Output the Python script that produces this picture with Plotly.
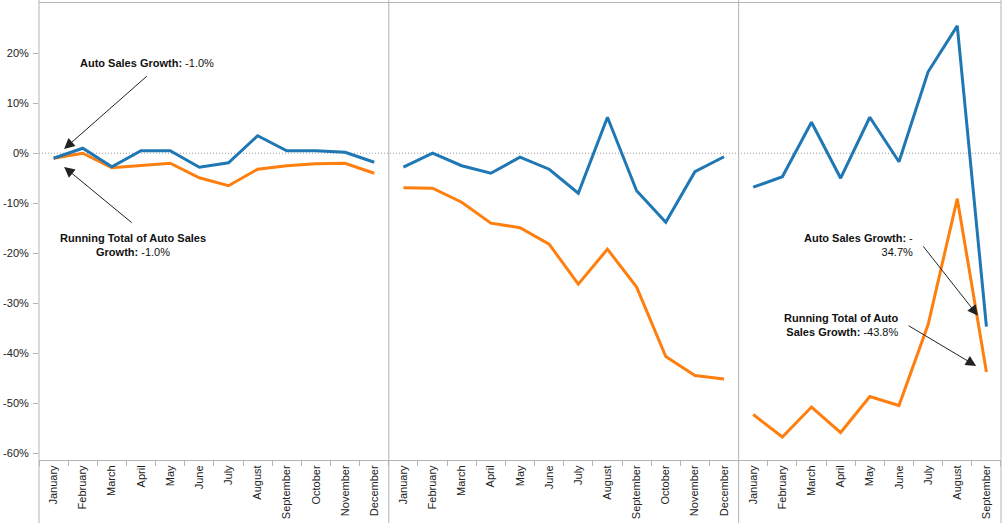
import plotly.graph_objects as go
from plotly.subplots import make_subplots

# ---- data (percent) ----
months = ["January", "February", "March", "April", "May", "June", "July",
          "August", "September", "October", "November", "December"]
p1_months = months
p2_months = months
p3_months = months[:9]

p1_growth = [-1.0, 1.0, -2.7, 0.5, 0.5, -2.8, -1.9, 3.5, 0.5, 0.5, 0.2, -1.8]
p1_running = [-1.0, 0.0, -2.9, -2.5, -2.0, -4.9, -6.5, -3.2, -2.5, -2.1, -2.0, -4.0]

p2_growth = [-2.8, 0.0, -2.5, -4.0, -0.8, -3.2, -8.0, 7.2, -7.5, -13.8, -3.7, -0.7]
p2_running = [-6.9, -7.0, -9.8, -14.0, -14.9, -18.2, -26.2, -19.2, -26.8, -40.7, -44.5, -45.2]

p3_growth = [-6.8, -4.7, 6.2, -5.0, 7.2, -1.7, 16.3, 25.5, -34.7]
p3_running = [-52.3, -56.8, -50.8, -55.9, -48.7, -50.5, -34.3, -9.1, -43.8]

y_tick_vals = [-60, -50, -40, -30, -20, -10, 0, 10, 20]
y_tick_text = ["-60%", "-50%", "-40%", "-30%", "-20%", "-10%", "0%", "10%", "20%"]

BLUE = "#1f77b4"
ORANGE = "#ff7f0e"
AXIS = "#b4b4b4"
FONT = "Liberation Sans, Arial, sans-serif"

panels = [(p1_months, p1_growth, p1_running),
          (p2_months, p2_growth, p2_running),
          (p3_months, p3_growth, p3_running)]

fig = make_subplots(rows=1, cols=3, shared_yaxes=True, horizontal_spacing=0,
                    column_widths=[len(p1_months), len(p2_months), len(p3_months)])

for i, (m, g, r) in enumerate(panels, start=1):
    fig.add_trace(go.Scatter(x=m, y=r, mode="lines", name="Running Total of Auto Sales Growth",
                             line=dict(color=ORANGE, width=3), showlegend=False), row=1, col=i)
    fig.add_trace(go.Scatter(x=m, y=g, mode="lines", name="Auto Sales Growth",
                             line=dict(color=BLUE, width=3), showlegend=False), row=1, col=i)
    fig.update_xaxes(type="category", range=[-0.5, len(m) - 0.5], tickangle=-90,
                     tickson="boundaries", ticks="outside", ticklen=5, tickcolor=AXIS,
                     showline=True, linecolor=AXIS, linewidth=1, mirror=True,
                     showgrid=False, zeroline=False,
                     tickfont=dict(family=FONT, size=11, color="#222"),
                     row=1, col=i)
    fig.update_yaxes(range=[-61.4, 30.07], showgrid=False, zeroline=False,
                     showline=False, row=1, col=i)

fig.update_yaxes(tickvals=y_tick_vals, ticktext=y_tick_text, ticks="outside", ticklen=5,
                 ticklabelstandoff=2,
                 tickcolor=AXIS, tickfont=dict(family=FONT, size=11, color="#222"),
                 row=1, col=1)
fig.update_yaxes(ticks="", showticklabels=False, row=1, col=2)
fig.update_yaxes(ticks="", showticklabels=False, row=1, col=3)

# zero reference line (dotted)
fig.add_shape(type="line", xref="paper", yref="y", x0=0, x1=1, y0=0, y1=0,
              line=dict(color="#999999", width=1, dash="1px,2px"), layer="below")

# panel separators extending into label area
d1 = fig.layout.xaxis.domain
d2 = fig.layout.xaxis2.domain
d3 = fig.layout.xaxis3.domain
for xv in [d1[0], d2[0], d3[0], d3[1]]:
    fig.add_shape(type="line", xref="paper", yref="paper", x0=xv, x1=xv, y0=-0.138, y1=1.007,
                  line=dict(color=AXIS, width=1))

ann_font = dict(family=FONT, size=11, color="#111")
annotations = []

def arrow(xref, yref, x, y, ax, ay, standoff):
    return dict(xref=xref, yref=yref, x=x, y=y, ax=ax, ay=ay, text="", showarrow=True,
                arrowhead=2, arrowsize=2.1, arrowwidth=1, arrowcolor="#222", standoff=standoff)

def label(xref, yref, x, y, text, xshift, yshift, xanchor, align):
    return dict(xref=xref, yref=yref, x=x, y=y, text=text, showarrow=False,
                xshift=xshift, yshift=yshift, xanchor=xanchor, yanchor="middle",
                align=align, font=ann_font)

# panel 1, January
annotations.append(arrow("x", "y", p1_months[0], p1_growth[0], 94.7, -83.3, 14))
annotations.append(label("x", "y", p1_months[0], p1_growth[0],
                         "<b>Auto Sales Growth:</b> -1.0%", 93.4, 95, "center", "center"))
annotations.append(arrow("x", "y", p1_months[0], p1_running[0], 79.7, 65.7, 13.7))
annotations.append(label("x", "y", p1_months[0], p1_running[0],
                         "<b>Running Total of Auto Sales<br>Growth:</b> -1.0%", 79, -87,
                         "center", "center"))

# panel 3, September
annotations.append(arrow("x3", "y3", p3_months[-1], p3_growth[-1], -64.4, -81.8, 13.7))
annotations.append(label("x3", "y3", p3_months[-1], p3_growth[-1],
                         "<b>Auto Sales Growth:</b> -<br>34.7%", -71.1, 81.5, "right", "right"))
annotations.append(arrow("x3", "y3", p3_months[-1], p3_running[-1], -79.4, -47.3, 11.9))
annotations.append(label("x3", "y3", p3_months[-1], p3_running[-1],
                         "<b>Running Total of Auto<br>Sales Growth:</b> -43.8%", -85.4, 47.3,
                         "right", "right"))

fig.update_layout(
    width=1003, height=527,
    margin=dict(l=39, r=2, t=3, b=67),
    paper_bgcolor="white", plot_bgcolor="white",
    font=dict(family=FONT, size=11, color="#222"),
    annotations=annotations,
    showlegend=False,
)

fig.write_html("out.html")
